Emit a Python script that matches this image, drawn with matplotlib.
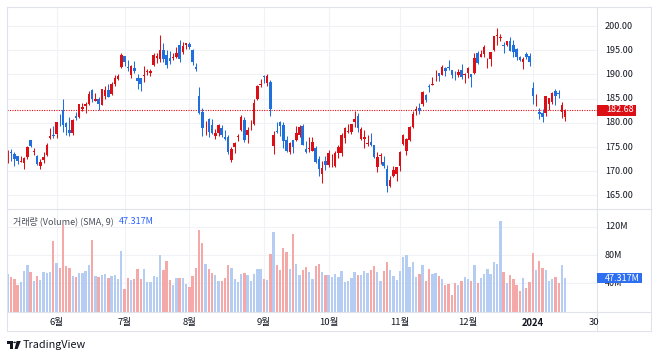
import numpy as np
import pandas as pd
import matplotlib
matplotlib.use('Agg')
import matplotlib.pyplot as plt
from matplotlib.patches import Rectangle, Circle, Polygon
from matplotlib.lines import Line2D
import matplotlib.transforms as mtransforms

# ---------------- data (AAPL daily, 2023-05-10 .. 2024-01-17) ----------------
holidays = ['2023-05-29', '2023-06-19', '2023-07-04', '2023-09-04',
            '2023-11-23', '2023-12-25', '2024-01-01', '2024-01-15']
dates = [d for d in pd.bdate_range('2023-05-10', '2024-01-17')
         if d.strftime('%Y-%m-%d') not in holidays]

opens = [
    172.55, 173.85, 173.62, 173.16, 171.99, 171.71, 173.00, 176.39, 173.98, 173.13, 171.09, 172.41, 173.32, 176.96, 177.33,
    177.70, 181.03, 182.63, 179.97, 178.44, 177.90, 181.50, 181.27, 182.80, 183.37, 183.96, 186.73, 184.41, 184.90, 183.74,
    185.55, 186.83, 185.89, 187.93, 189.08, 191.63,
    193.78, 191.57, 189.84, 191.41, 189.26, 189.16, 189.68, 190.50, 190.23, 191.90, 193.35, 193.10, 195.09, 194.10, 193.41,
    193.33, 193.67, 196.02, 194.67, 196.06,
    196.24, 195.04, 191.57, 185.52, 182.13, 179.69, 180.87, 179.48, 177.32, 177.97, 178.88, 177.13, 177.14, 172.30, 175.07,
    177.06, 178.52, 180.67, 177.38, 180.09, 179.70, 184.94, 187.84,
    189.49, 188.28, 188.40, 175.18, 178.35, 180.07, 179.49, 176.51, 174.00, 176.48, 176.48, 177.52, 179.26, 174.55, 174.67,
    174.20, 174.82, 172.62, 169.34, 172.02,
    171.22, 172.26, 171.09, 173.79, 173.80, 176.81, 178.10, 178.20, 180.07, 181.42, 176.75, 176.65, 175.58, 176.04, 175.31,
    170.91, 173.05, 171.88, 170.37, 166.91, 169.02, 169.35,
    171.00, 175.52, 174.24, 176.38, 179.18, 182.35, 182.96, 183.97, 185.82, 187.70, 187.85, 189.57, 190.25, 189.89, 191.41,
    191.49, 190.87, 189.92, 189.78, 190.90, 189.84,
    190.33, 189.98, 190.21, 194.45, 193.63, 194.20, 193.11, 193.08, 195.09, 198.02, 197.53, 196.09, 196.16, 196.90, 196.10,
    195.18, 193.61, 192.49, 194.14, 193.90,
    187.15, 184.22, 182.15, 181.99, 182.09, 183.92, 184.35, 186.54, 186.06, 182.16, 181.27]
highs = [
    174.43, 174.59, 174.06, 173.21, 173.14, 172.93, 175.24, 176.39, 174.71, 173.38, 172.42, 173.90, 175.77, 178.99, 179.35,
    180.12, 181.78, 184.95, 180.12, 181.21, 180.84, 182.23, 183.89, 184.15, 184.39, 186.52, 186.99, 186.10, 185.41, 187.05,
    187.56, 188.05, 188.39, 189.90, 190.07, 194.48,
    193.88, 192.98, 192.02, 192.67, 189.99, 189.30, 191.70, 191.19, 191.18, 194.32, 194.33, 198.23, 196.47, 194.97, 194.91,
    194.44, 195.64, 197.20, 196.63, 196.49,
    196.73, 195.18, 192.37, 187.38, 183.13, 180.27, 180.93, 180.75, 178.62, 179.69, 179.48, 178.54, 177.51, 175.10, 176.13,
    177.68, 181.55, 181.10, 179.15, 180.59, 184.90, 187.85, 189.12,
    189.92, 189.98, 188.85, 178.21, 180.24, 180.30, 180.13, 177.30, 176.10, 176.50, 179.38, 179.63, 179.70, 176.30, 177.08,
    176.97, 175.20, 173.04, 172.03, 173.07,
    174.30, 173.63, 174.21, 175.45, 177.99, 179.05, 179.72, 179.85, 182.34, 181.93, 179.08, 178.42, 177.58, 177.84, 175.42,
    174.01, 173.67, 173.06, 171.38, 168.96, 171.17, 170.90,
    174.23, 177.78, 176.82, 179.43, 182.44, 183.45, 184.12, 186.57, 186.03, 188.11, 189.50, 190.96, 190.38, 191.91, 191.52,
    192.93, 190.90, 190.67, 191.08, 192.09, 190.32,
    191.56, 190.05, 194.40, 194.76, 195.00, 195.99, 193.49, 194.72, 198.00, 199.62, 198.40, 196.63, 196.95, 197.68, 197.08,
    195.41, 193.89, 193.50, 194.66, 194.40,
    188.44, 185.88, 183.09, 182.76, 185.60, 185.15, 186.40, 187.05, 186.74, 184.26, 182.93]
lows = [
    171.76, 172.17, 171.00, 171.47, 171.80, 170.42, 172.58, 174.94, 173.45, 171.28, 170.52, 171.69, 173.11, 176.57, 176.76,
    176.93, 179.26, 178.04, 177.43, 177.32, 177.46, 180.63, 180.97, 182.44, 182.02, 183.78, 184.27, 184.41, 182.59, 183.67,
    185.01, 185.23, 185.67, 187.60, 188.94, 191.26,
    191.76, 190.62, 189.20, 190.24, 187.04, 186.60, 188.47, 189.78, 189.63, 191.81, 192.42, 192.65, 192.50, 191.23, 192.25,
    192.92, 193.32, 192.55, 194.14, 195.26,
    195.28, 191.85, 190.69, 181.92, 177.35, 177.58, 177.01, 177.60, 176.55, 177.31, 177.05, 176.50, 173.48, 171.96, 173.74,
    176.25, 178.33, 176.01, 175.82, 178.55, 179.50, 184.74, 187.48,
    188.28, 187.61, 181.47, 173.54, 177.79, 177.34, 174.82, 173.98, 173.58, 173.82, 176.17, 177.13, 175.40, 173.86, 174.05,
    174.15, 171.66, 169.05, 167.62, 170.34,
    170.93, 170.82, 170.97, 172.68, 173.18, 175.80, 177.95, 177.60, 179.04, 178.14, 176.51, 174.80, 175.11, 175.19, 172.64,
    169.93, 171.45, 170.65, 165.67, 166.83, 168.87, 167.90,
    170.12, 175.46, 173.35, 176.21, 178.97, 181.59, 181.81, 183.53, 184.21, 186.30, 187.78, 188.65, 188.57, 189.88, 189.74,
    190.83, 189.25, 188.90, 189.40, 188.97, 188.19,
    189.23, 187.45, 190.18, 192.11, 193.59, 193.67, 191.42, 191.72, 194.85, 196.16, 197.00, 194.39, 195.89, 194.83, 193.50,
    192.97, 192.83, 191.09, 193.17, 191.73,
    183.89, 183.43, 180.88, 180.17, 181.50, 182.73, 183.92, 183.62, 185.19, 180.93, 180.30]
closes = [
    173.56, 173.75, 172.57, 172.07, 172.07, 172.69, 175.05, 175.16, 174.20, 171.56, 171.84, 172.99, 175.43, 177.30, 177.25,
    180.09, 180.95, 179.58, 179.21, 177.82, 180.57, 180.96, 183.79, 183.31, 183.95, 186.01, 184.92, 185.01, 183.96, 187.00,
    186.68, 185.27, 188.06, 189.25, 189.59, 193.97,
    192.46, 191.33, 191.81, 190.68, 188.61, 188.08, 189.77, 190.54, 190.69, 193.99, 193.73, 195.10, 193.13, 191.94, 192.75,
    193.62, 194.50, 193.22, 195.83, 196.45,
    195.61, 192.58, 191.17, 181.99, 178.85, 179.80, 178.19, 177.97, 177.79, 179.46, 177.45, 176.57, 174.00, 174.49, 175.84,
    177.23, 181.12, 176.38, 178.61, 180.19, 184.12, 187.65, 187.87,
    189.46, 189.70, 182.91, 177.56, 178.18, 179.36, 176.30, 174.21, 175.74, 175.01, 177.97, 179.07, 175.49, 173.93, 174.79,
    176.08, 171.96, 170.43, 170.69, 171.21,
    173.75, 172.40, 173.66, 174.91, 177.49, 178.99, 178.39, 179.80, 180.71, 178.85, 178.72, 177.15, 175.84, 175.46, 172.88,
    173.00, 173.44, 171.10, 166.89, 168.22, 170.29, 170.77,
    173.97, 177.57, 176.65, 179.23, 181.82, 182.89, 182.41, 186.40, 184.80, 187.44, 188.01, 189.71, 189.69, 191.45, 190.64,
    191.31, 189.97, 189.79, 190.40, 189.37, 189.95,
    191.24, 189.43, 193.42, 192.32, 194.27, 195.71, 193.18, 194.71, 197.96, 198.11, 197.57, 195.89, 196.94, 194.83, 194.68,
    193.60, 193.05, 193.15, 193.58, 192.53,
    185.64, 184.25, 181.91, 181.18, 185.56, 185.14, 186.19, 185.59, 185.92, 183.63, 182.68]
volumes_m = [
    53.7, 49.5, 45.5, 37.3, 42.1, 57.9, 65.5, 55.8, 43.6, 50.7, 45.1, 56.1, 54.8, 55.9, 99.6,
    68.9, 61.9, 121.9, 64.8, 61.9, 50.2, 48.9, 54.3, 54.9, 57.5, 65.4, 101.3, 49.8, 49.5, 51.2,
    53.1, 48.1, 50.7, 51.2, 46.3, 85.2,
    31.5, 46.9, 45.2, 46.8, 59.9, 46.6, 60.8, 41.3, 41.6, 50.5, 48.4, 80.5, 59.6, 71.9, 45.4,
    37.3, 47.5, 47.5, 48.3, 38.8,
    35.2, 50.4, 61.2, 115.8, 97.6, 67.8, 60.4, 54.7, 52.0, 43.7, 43.6, 46.9, 66.1, 61.1, 46.3,
    42.1, 52.7, 54.9, 51.4, 43.8, 53.0, 60.8, 60.8,
    45.7, 45.3, 81.8, 112.5, 65.6, 58.9, 90.4, 84.3, 60.9, 109.2, 67.3, 51.8, 58.4, 63.1, 56.7,
    46.2, 64.6, 66.9, 56.3, 51.8,
    52.2, 49.6, 53.0, 48.5, 57.2, 42.4, 43.7, 47.6, 56.7, 51.4, 52.5, 57.5, 54.8, 59.3, 64.2,
    55.9, 43.8, 57.2, 70.6, 58.5, 51.1, 44.8,
    56.9, 77.3, 79.8, 63.8, 70.5, 49.3, 53.8, 66.1, 43.6, 60.1, 53.8, 54.4, 50.9, 46.5, 38.1,
    39.6, 24.0, 40.6, 38.4, 43.0, 48.8,
    45.7, 43.4, 66.6, 41.1, 47.5, 53.4, 60.9, 52.7, 70.4, 66.8, 128.5, 55.8, 40.7, 52.2, 46.5,
    37.1, 28.9, 48.1, 34.0, 42.6,
    82.5, 58.4, 71.9, 62.4, 59.1, 42.8, 46.8, 49.1, 40.4, 65.6, 47.317]

price_ticks = [165, 170, 175, 180, 185, 190, 195, 200]
vol_ticks = [40, 80, 120]
last_price = 182.68
last_vol_label = '47.317M'
month_labels = ['6월', '7월', '8월', '9월', '10월', '11월', '12월', '2024']
future_label = '30'
future_offset = 9  # trading days after the last bar (Jan 30)

n = min(len(dates), len(opens), len(highs), len(lows), len(closes), len(volumes_m))
dates = dates[:n]
o = np.array(opens[:n]); h = np.array(highs[:n]); l = np.array(lows[:n])
c = np.array(closes[:n]); v = np.array(volumes_m[:n])
idx = np.arange(n)

# ---------------- styling ----------------
W, H = 658, 358
fig = plt.figure(figsize=(W / 100, H / 100), dpi=100)
fig.patch.set_facecolor('white')

def fx(px):
    return px / W

def fy(py):
    return 1 - py / H

UP = '#dc0f17'
DOWN = '#1f6fdc'
VUP = '#b5cdf3'
VDOWN = '#f5a8a8'
GRID = '#f0f2f6'
FRAME = '#e0e3eb'
TXT = '#131722'
KFONT = ['Noto Sans CJK KR', 'DejaVu Sans']
AXFS = 6.5

X0, X1 = 7, 597
PT, PB = 7, 209
VB = 312
BAR0, BARW = 7.9, 3.24
xl = ((X0 - BAR0) / BARW, (X1 - BAR0) / BARW)

ax = fig.add_axes([fx(X0), fy(PB), fx(X1) - fx(X0), fy(PT) - fy(PB)])
axv = fig.add_axes([fx(X0), fy(VB), fx(X1) - fx(X0), fy(PB) - fy(VB)])
for a in (ax, axv):
    a.set_xlim(*xl)
    a.axis('off')

PPX = 4.84
ax.set_ylim(200 - (PB - 26) / PPX, 200 + (26 - PT) / PPX)
VPX = 0.708
axv.set_ylim((311.7 - VB) / VPX, (311.7 - PB) / VPX)

# month starts
month_pos = []
prev = None
for i, d in enumerate(dates):
    if prev is not None and d.month != prev:
        month_pos.append(i)
    prev = d.month
month_pos = month_pos[:len(month_labels)]

for a in (ax, axv):
    for mp in month_pos:
        a.axvline(mp, color=GRID, lw=0.8, zorder=0)
for p in price_ticks:
    ax.axhline(p, color=GRID, lw=0.8, zorder=0)
for vt in vol_ticks:
    axv.axhline(vt, color=GRID, lw=0.8, zorder=0)

# candles
up = c >= o
cols = np.where(up, UP, DOWN)
ax.vlines(idx, l, h, colors=cols, lw=0.75, zorder=2)
body_lo = np.minimum(o, c)
body_h = np.maximum(np.abs(c - o), 0.14)
ax.bar(idx, body_h, bottom=body_lo, width=0.78, color=cols, lw=0, zorder=3)

# last price dotted line
ax.axhline(last_price, color=UP, lw=0.8, ls=(0, (1, 1.2)), zorder=1)

# volume
vcols = np.where(up, VUP, VDOWN)
axv.bar(idx, v, width=0.72, color=vcols, lw=0, zorder=2)

# ---------------- frame lines ----------------
def hline(y, x0, x1):
    fig.add_artist(Line2D([fx(x0), fx(x1)], [fy(y), fy(y)], color=FRAME, lw=0.8))

def vline(x, y0, y1):
    fig.add_artist(Line2D([fx(x), fx(x)], [fy(y0), fy(y1)], color=FRAME, lw=0.8))

hline(7, 7, 650.5)
hline(331, 7, 650.5)
hline(PB, 7, 650.5)
hline(VB, 7, 650.5)
vline(7, 7, 331)
vline(650.5, 7, 331)
vline(X1, 7, 331)

# ---------------- right axis labels ----------------
tp = mtransforms.blended_transform_factory(fig.transFigure, ax.transData)
for p in price_ticks:
    fig.text(fx(605), p, f'{p:.2f}', transform=tp, fontsize=AXFS, color=TXT,
             va='center', ha='left', family=KFONT)

tv = mtransforms.blended_transform_factory(fig.transFigure, axv.transData)
for vt in vol_ticks:
    fig.text(fx(605), vt, f'{vt}M', transform=tv, fontsize=AXFS, color=TXT,
             va='center', ha='left', family=KFONT, zorder=1)

# last price box
fig.add_artist(Rectangle((fx(597), fy(115.8)), fx(636) - fx(597), fy(104.8) - fy(115.8),
                         transform=fig.transFigure, fc=UP, ec='none', zorder=5))
fig.text(fx(606.5), last_price, f'{last_price:.2f}', transform=tp, fontsize=AXFS,
         color='white', va='center', ha='left', family=KFONT, zorder=6)

# last volume box
fig.add_artist(Rectangle((fx(597), fy(283.3)), fx(642) - fx(597), fy(272.7) - fy(283.3),
                         transform=fig.transFigure, fc='#2d6ff0', ec='none', zorder=5))
fig.text(fx(605), v[-1], last_vol_label, transform=tv, fontsize=AXFS,
         color='white', va='center', ha='left', family=KFONT, zorder=6)

# ---------------- volume legend ----------------
fig.text(fx(13), fy(221), '거래량 (Volume) (SMA, 9)', fontsize=6.5, color='#4a4e5a',
         va='center', ha='left', family=KFONT)
fig.text(fx(119), fy(221), last_vol_label, fontsize=6.5, color='#2962ff',
         va='center', ha='left', family=KFONT)

# ---------------- time axis labels ----------------
tx = mtransforms.blended_transform_factory(axv.transData, fig.transFigure)
for mp, lab in zip(month_pos, month_labels):
    fig.text(mp, fy(322.5), lab, transform=tx, fontsize=6.8, color=TXT,
             ha='center', va='center', family=KFONT,
             fontweight='bold' if lab.isdigit() else 'normal')
fig.text(n - 1 + future_offset, fy(322.5), future_label, transform=tx, fontsize=6.8,
         color=TXT, ha='center', va='center', family=KFONT)

# ---------------- TradingView logo ----------------
logo = '#131722'
fig.add_artist(Rectangle((fx(7.3), fy(343.6)), fx(5.4), fy(341) - fy(343.6),
                         transform=fig.transFigure, fc=logo, ec='none'))
fig.add_artist(Rectangle((fx(10.2), fy(349)), fx(2.5), fy(341) - fy(349),
                         transform=fig.transFigure, fc=logo, ec='none'))
fig.add_artist(Circle((fx(14.6), fy(342.4)), fx(1.35), transform=fig.transFigure,
                      fc=logo, ec='none'))
fig.add_artist(Polygon([(fx(16.6), fy(341)), (fx(20.8), fy(341)),
                        (fx(17.6), fy(349)), (fx(14.6), fy(349))],
                       closed=True, transform=fig.transFigure, fc=logo, ec='none'))
fig.text(fx(23), fy(345.3), 'TradingView', fontsize=7.8, color=TXT,
         ha='left', va='center', family=KFONT)

fig.savefig('out.png', dpi=100, facecolor='white')
